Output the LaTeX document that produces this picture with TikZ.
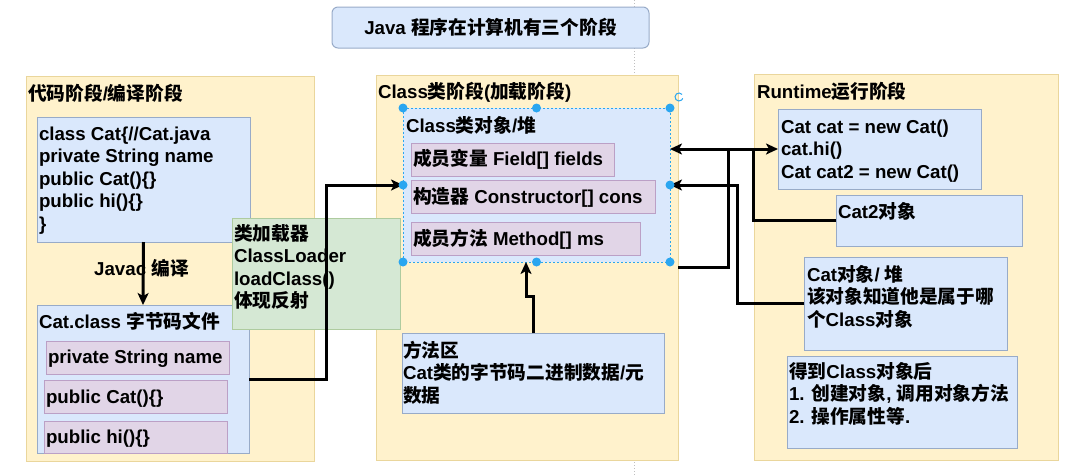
\documentclass[tikz,border=0pt]{standalone}
\usepackage{fontspec}
\setmainfont{Liberation Sans}
\newfontfamily\zhfont{Noto Sans CJK SC}
\usetikzlibrary{arrows.meta}
\newcommand\zh[1]{{\zhfont #1}}
\newcommand\mystrut{\rule[-5.6pt]{0pt}{22.6pt}}
\definecolor{panelfill}{HTML}{FFF2CC}
\definecolor{paneldraw}{HTML}{EAD69C}
\definecolor{bluefill}{HTML}{DAE8FC}
\definecolor{bluedraw}{HTML}{98ABC8}
\definecolor{pinkfill}{HTML}{E1D5E7}
\definecolor{pinkdraw}{HTML}{BBA0C6}
\definecolor{greenfill}{HTML}{D5E8D4}
\definecolor{greendraw}{HTML}{AECB9F}
\definecolor{selblue}{HTML}{2AA6F0}
\tikzset{
  boxbase/.style={anchor=north west, inner sep=0pt, outer sep=0pt, line width=1pt},
  panel/.style={boxbase, fill=panelfill, draw=paneldraw},
  bluebox/.style={boxbase, fill=bluefill, draw=bluedraw},
  pinkbox/.style={boxbase, fill=pinkfill, draw=pinkdraw},
  greenbox/.style={boxbase, fill=greenfill, draw=greendraw},
  lbl/.style={anchor=north west, inner sep=0pt, outer sep=0pt, align=left,
    font=\bfseries\fontsize{18.7}{22.6}\selectfont},
  arr/.style={line width=3pt, -{Stealth[length=12pt,width=11pt,inset=3pt]}},
  handle/.style={fill=selblue},
}
\begin{document}
\begin{tikzpicture}[x=1pt,y=-1pt]
\useasboundingbox (0,0) rectangle (1083,475);
% guide line
\draw[black!25, dotted, line width=1pt] (634,0) -- (634,475);
% title
\node[bluebox, rounded corners=6pt, minimum width=317pt, minimum height=41pt] (title) at (332,7) {};
\node[lbl, anchor=base] (titletext) at (490.5,34) {Java \zh{程序在计算机有三个阶段}};
% panels
\node[panel, minimum width=288pt, minimum height=385pt] (lp) at (26,76) {};
\node[panel, minimum width=302pt, minimum height=385pt] (mp) at (376,75) {};
\node[panel, minimum width=304pt, minimum height=386pt] (rp) at (754,74) {};
% left boxes
\node[bluebox, minimum width=213pt, minimum height=125pt] (src) at (37,117) {};
\node[bluebox, minimum width=212pt, minimum height=148pt] (cls) at (37,305) {};
\node[pinkbox, minimum width=183pt, minimum height=33pt] (lpk1) at (46,341) {};
\node[pinkbox, minimum width=183pt, minimum height=33pt] (lpk2) at (44,380) {};
\node[pinkbox, minimum width=183pt, minimum height=32pt] (lpk3) at (44,421) {};
% middle boxes
\node[boxbase, fill=bluefill, minimum width=267pt, minimum height=154pt] (cobj) at (403,108) {};
\draw[selblue, line width=0.8pt, dash pattern=on 2pt off 2pt] (cobj.north west) rectangle (cobj.south east);
\node[pinkbox, minimum width=203pt, minimum height=33pt] (mpk1) at (411,143) {};
\node[pinkbox, minimum width=244pt, minimum height=33pt] (mpk2) at (411,180) {};
\node[pinkbox, minimum width=229pt, minimum height=33pt] (mpk3) at (411,222) {};
\node[bluebox, minimum width=262pt, minimum height=80pt] (ma) at (402,333) {};
% right boxes
\node[bluebox, minimum width=203pt, minimum height=80pt] (code) at (778,109) {};
\node[bluebox, minimum width=186pt, minimum height=51pt] (cat2) at (836,195) {};
\node[bluebox, minimum width=203pt, minimum height=93pt] (catobj) at (804,257) {};
\node[bluebox, minimum width=230pt, minimum height=92pt] (get) at (787,356) {};
% green loader box
\node[greenbox, minimum width=168pt, minimum height=111pt] (gl) at (232,218) {};
% texts
\node[lbl] (lptext) at (28,83) {\mystrut\zh{代码阶段}/\zh{编译阶段}};
\node[lbl] (srctext) at (39,123) {\mystrut class Cat\{//Cat.java\\\mystrut private String name\\\mystrut public Cat()\{\}\\\mystrut public hi()\{\}\\\mystrut \}};
\node[lbl] (clstext) at (39,311) {\mystrut Cat.class \zh{字节码文件}};
\node[lbl] (lpk1text) at (48,346) {\mystrut private String name};
\node[lbl] (lpk2text) at (46,386) {\mystrut public Cat()\{\}};
\node[lbl] (lpk3text) at (46,426) {\mystrut public hi()\{\}};
\node[lbl] (gltext) at (234,223) {\mystrut\zh{类加载器}\\\mystrut ClassLoader\\\mystrut loadClass()\\\mystrut\zh{体现反射}};
\node[lbl] (mptext) at (378,81) {\mystrut Class\zh{类阶段}(\zh{加载阶段})};
\node[lbl] (cobjtext) at (406,115) {\mystrut Class\zh{类对象}/\zh{堆}};
\node[lbl] (mpk1text) at (413,148) {\mystrut\zh{成员变量} Field[] fields};
\node[lbl] (mpk2text) at (413,186) {\mystrut\zh{构造器} Constructor[] cons};
\node[lbl] (mpk3text) at (413,228) {\mystrut\zh{成员方法} Method[] ms};
\node[lbl] (matext) at (403,340) {\mystrut\zh{方法区}\\\mystrut Cat\zh{类的字节码二进制数据}/\zh{元}\\\mystrut\zh{数据}};
\node[lbl] (rptext) at (757,81) {\mystrut Runtime\zh{运行阶段}};
\node[lbl] (codetext) at (781,116) {\mystrut Cat cat = new Cat()\\\mystrut cat.hi()\\\mystrut Cat cat2 = new Cat()};
\node[lbl] (cat2text) at (838,201) {\mystrut Cat2\zh{对象}};
\node[lbl] (catobjtext) at (807,264) {\mystrut Cat\zh{对象}/ \zh{堆}\\\mystrut\zh{该对象知道他是属于哪}\\\mystrut\zh{个}Class\zh{对象}};
\node[lbl] (gettext) at (789,361) {\mystrut\zh{得到}Class\zh{对象后}\\\mystrut 1. \zh{创建对象}, \zh{调用对象方法}\\\mystrut 2. \zh{操作属性等}.};
\node[lbl, anchor=base] (javac) at (141.5,275) {Javac \zh{编译}};
% connectors
\coordinate (j1) at (326,0);
\coordinate (m1) at (533,296);
\coordinate (m2) at (526,296);
\coordinate (r1) at (678,267);
\coordinate (xv1) at (728,0);
\coordinate (xv2) at (753,0);
\coordinate (xv3) at (737,0);
\draw[arr] (src.south) -- (cls.north);
\draw[arr] (cls.east) -- (cls.east -| j1) -- (cobj.west -| j1) -- (cobj.west);
\draw[arr] (ma.north -| m1) -- (m1) -- (m2) -- (cobj.south -| m2);
\draw[arr] (r1) -- (r1 -| xv1) -- (xv1 |- code.west) -- (code.west);
\draw[arr] (cat2.west) -- (cat2.west -| xv2) -- (xv2 |- code.west) -- (cobj.east |- code.west);
\draw[arr] (catobj.west) -- (catobj.west -| xv3) -- (xv3 |- cobj.east) -- (cobj.east);
% selection handles
\foreach \a in {north west,north,north east,west,east,south west,south,south east}
  \fill[handle] (cobj.\a) circle[radius=4.5pt];
\draw[selblue, line width=1pt] (679,97) ++(40:4pt) arc[start angle=40, end angle=340, radius=4pt];
\end{tikzpicture}
\end{document}
